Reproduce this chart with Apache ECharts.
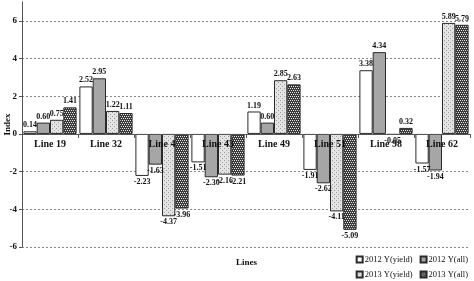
<!DOCTYPE html>
<html><head><meta charset="utf-8">
<script src="https://cdn.jsdelivr.net/npm/echarts@6/dist/echarts.min.js"></script>
<style>html,body{margin:0;padding:0;background:#fff}#c{width:474px;height:281px}</style>
</head><body><div id="c"></div>
<script>
const categories = ['Line 19','Line 32','Line 4','Line 43','Line 49','Line 51','Line 98','Line 62'];
const seriesNames = ['2012 Y(yield)','2012 Y(all)','2013 Y(yield)','2013 Y(all)'];
const y2012yield = [0.14, 2.52, -2.23, -1.51, 1.19, -1.91, 3.38, -1.57];
const y2012all   = [0.60, 2.95, -1.63, -2.30, 0.60, -2.62, 4.34, -1.94];
const y2013yield = [0.75, 1.22, -4.37, -2.16, 2.85, -4.11, -0.05, 5.89];
const y2013all   = [1.41, 1.11, -3.96, -2.21, 2.63, -5.09, 0.32, 5.79];
const yMin = -6, yMax = 7, yInterval = 2;

function pattern(size, bg, fg, dots) {
  const c = document.createElement('canvas');
  c.width = size; c.height = size;
  const g = c.getContext('2d');
  g.fillStyle = bg; g.fillRect(0, 0, size, size);
  g.fillStyle = fg;
  dots.forEach(d => g.fillRect(d[0], d[1], 1, 1));
  return { image: c, repeat: 'repeat' };
}
const fills = [
  '#ffffff',
  '#a6a6a6',
  pattern(4, '#e4e4e4', '#9a9a9a', [[0,0],[2,2]]),
  pattern(4, '#3a3a3a', '#e8e8e8', [[0,0],[2,0],[1,2],[3,2]])
];
const seriesData = [y2012yield, y2012all, y2013yield, y2013all];
const FONT = 'Liberation Serif';
const gridTop = 2, gridBottom = 34, H = 281;
const plotH = H - gridTop - gridBottom;
const zeroOffset = -plotH * (0 - yMin) / (yMax - yMin);

const legendText = { fontFamily: FONT, fontSize: 8.5, color: '#111', padding: [0, 0, 0, -3] };
const legendBase = { right: 6, width: 150, itemWidth: 6, itemHeight: 6, itemGap: 7, icon: 'rect', textStyle: legendText, padding: 0 };
const chart = echarts.init(document.getElementById('c'), null, {renderer: 'canvas'});
chart.setOption({
  animation: false,
  backgroundColor: '#fff',
  textStyle: { fontFamily: FONT },
  grid: { left: 22, right: 4, top: gridTop, bottom: gridBottom, containLabel: false, outerBoundsMode: 'none' },
  title: {
    text: 'Lines', left: 231, top: 253,
    textStyle: { fontFamily: FONT, fontSize: 9, fontWeight: 'bold', color: '#111' }
  },
  legend: [
    Object.assign({ data: seriesNames.slice(0, 2), top: 255 }, legendBase),
    Object.assign({ data: seriesNames.slice(2, 4), top: 270 }, legendBase)
  ],
  xAxis: {
    type: 'category', data: categories,
    position: 'bottom', offset: zeroOffset,
    axisLine: { onZero: false, lineStyle: { color: '#555', width: 1 } },
    axisTick: { show: true, length: 4, lineStyle: { color: '#555' } },
    axisLabel: { fontFamily: FONT, fontSize: 10, fontWeight: 'bold', color: '#111', margin: 5 },
    z: 3
  },
  yAxis: {
    type: 'value', min: yMin, max: yMax, interval: yInterval,
    name: 'Index', nameLocation: 'middle', nameGap: 10, nameRotate: 90, nameMoveOverlap: false,
    nameTextStyle: { fontFamily: FONT, fontSize: 9, fontWeight: 'bold', color: '#111' },
    axisLine: { show: true, lineStyle: { color: '#555', width: 1 } },
    axisTick: { show: true, length: 3, lineStyle: { color: '#555' } },
    axisLabel: { fontFamily: FONT, fontSize: 9, fontWeight: 'bold', color: '#111', margin: 5, showMaxLabel: false },
    splitLine: { show: true, showMaxLine: false, lineStyle: { color: '#888', type: [2, 2], width: 1 } }
  },
  series: seriesNames.map((name, i) => ({
    name, type: 'bar',
    barGap: '0%', barCategoryGap: '5%',
    itemStyle: { color: fills[i], borderColor: '#2a2a2a', borderWidth: 1 },
    data: seriesData[i].map(v => ({
      value: v,
      label: { position: v < 0 ? 'bottom' : 'top' }
    })),
    label: {
      show: true, distance: 2,
      fontFamily: FONT, fontSize: 8, fontWeight: 'bold', color: '#111',
      formatter: p => p.value.toFixed(2)
    }
  }))
});
</script></body></html>
